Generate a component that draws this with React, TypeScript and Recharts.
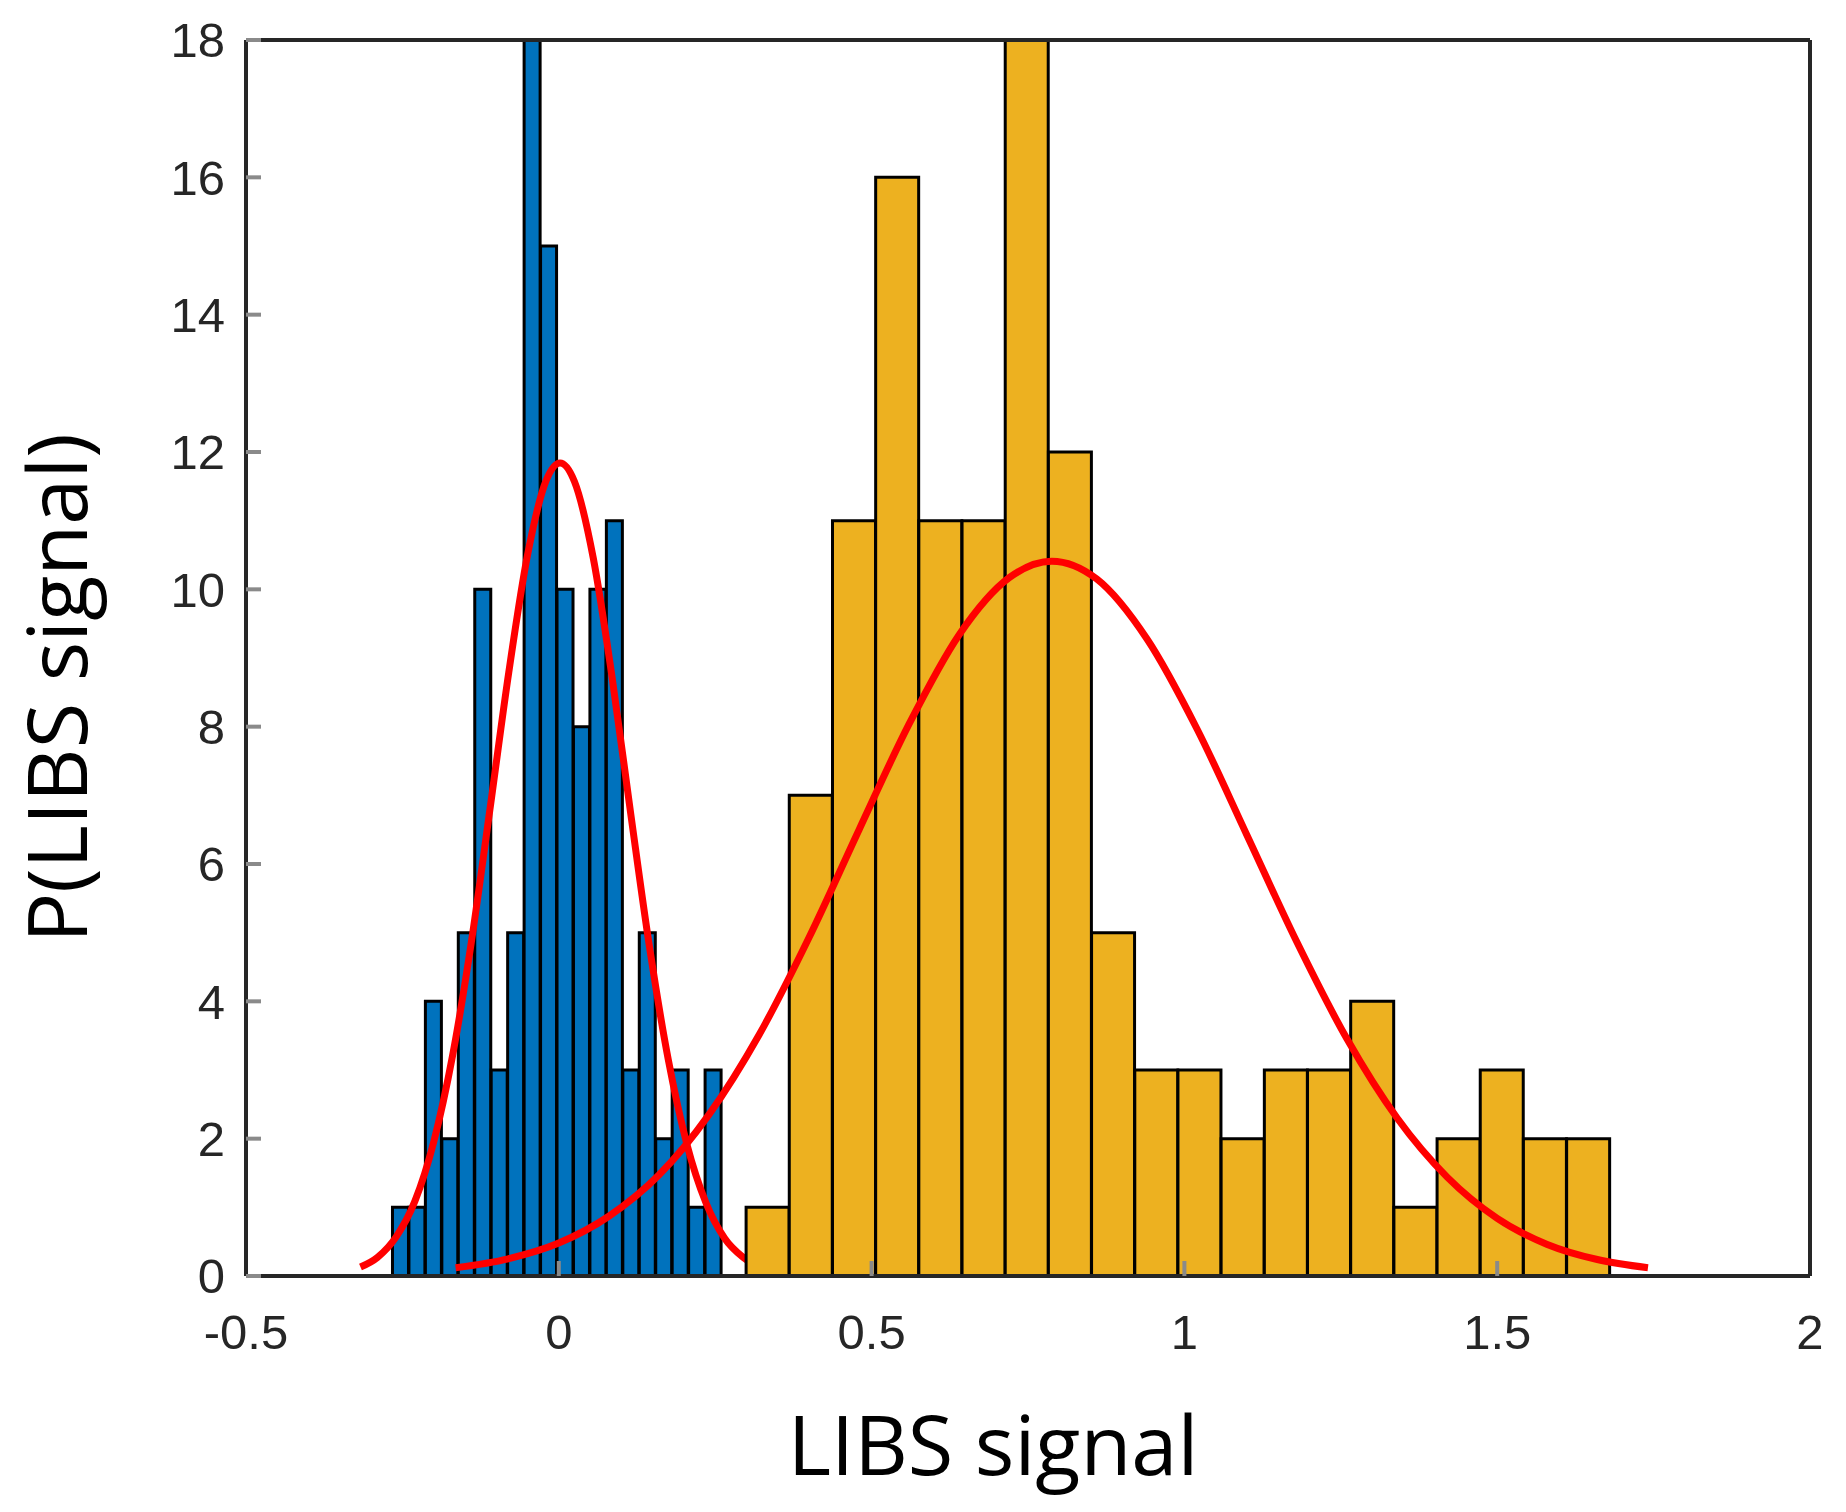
import React from 'react';
import { ComposedChart, Bar, Line, XAxis, YAxis } from 'recharts';

// Axis ticks
const xTicks = [-0.5, 0, 0.5, 1, 1.5, 2];
const yTicks = [0, 2, 4, 6, 8, 10, 12, 14, 16, 18];

// Blue histogram (bin centres, counts)
const blueBinCenters = [
  -0.2527, -0.2264, -0.2001, -0.1738, -0.1475, -0.1212, -0.0949, -0.0686, -0.0423, -0.016,
  0.0103, 0.0366, 0.0629, 0.0892, 0.1155, 0.1418, 0.1681, 0.1944, 0.2207, 0.247,
];
const blueCounts = [1, 1, 4, 2, 5, 10, 3, 5, 18, 15, 10, 8, 10, 11, 3, 5, 2, 3, 1, 3];

// Yellow histogram (bin centres, counts)
const yellowBinCenters = [
  0.3339, 0.4029, 0.472, 0.541, 0.61, 0.6791, 0.7481, 0.8171, 0.8861, 0.9552,
  1.0242, 1.0932, 1.1623, 1.2313, 1.3003, 1.3694, 1.4384, 1.5074, 1.5764, 1.6455,
];
const yellowCounts = [1, 7, 11, 16, 11, 11, 18, 12, 5, 3, 3, 2, 3, 3, 4, 1, 2, 3, 2, 2];

// Red fitted curves
const blueFitX = [
  -0.317, -0.29, -0.26, -0.23, -0.2, -0.17, -0.14, -0.11, -0.08, -0.05, -0.02, 0.002,
  0.025, 0.055, 0.085, 0.115, 0.145, 0.175, 0.205, 0.235, 0.265, 0.295, 0.321,
];
const blueFitY = [
  0.13, 0.27, 0.57, 1.09, 1.95, 3.2, 4.85, 6.8, 8.79, 10.5, 11.59, 11.84,
  11.57, 10.46, 8.73, 6.73, 4.79, 3.15, 1.91, 1.07, 0.55, 0.27, 0.13,
];
const yellowFitX = [
  -0.165, -0.081, 0.0, 0.08, 0.16, 0.24, 0.32, 0.4, 0.48, 0.56, 0.64, 0.72, 0.788,
  0.86, 0.94, 1.02, 1.1, 1.18, 1.26, 1.34, 1.42, 1.5, 1.58, 1.66, 1.741,
];
const yellowFitY = [
  0.12, 0.25, 0.48, 0.87, 1.47, 2.35, 3.51, 4.93, 6.5, 8.04, 9.34, 10.17, 10.41,
  10.15, 9.28, 7.97, 6.42, 4.86, 3.45, 2.3, 1.44, 0.84, 0.46, 0.24, 0.12,
];

// Histogram table (one row per bin index, both histograms have 20 bins)
const histData = blueBinCenters.map((bx, i) => ({
  bx,
  blue: blueCounts[i],
  yx: yellowBinCenters[i],
  yellow: yellowCounts[i],
}));
const blueFit = blueFitX.map((x, i) => ({ x, y: blueFitY[i] }));
const yellowFit = yellowFitX.map((x, i) => ({ x, y: yellowFitY[i] }));

const AXIS = '#262626';
const TICK = '#8a8a8a';
const tickFont = { fill: '#262626', fontSize: 49, fontFamily: 'Liberation Sans, Arial, sans-serif' };
const titleFont = 'Open Sans, Noto Sans, sans-serif';

const XTitle = (props: any) => {
  const vb = props.viewBox || {};
  return (
    <text
      x={vb.x + vb.width / 2 - 35}
      y={vb.y + 199}
      textAnchor="middle"
      fontFamily={titleFont}
      fontSize={83}
      fill="#000"
    >
      LIBS signal
    </text>
  );
};

const YTitle = (props: any) => {
  const vb = props.viewBox || {};
  const cx = 87;
  const cy = vb.y + vb.height / 2 + 30;
  return (
    <text
      x={cx}
      y={cy}
      transform={`rotate(-90 ${cx} ${cy})`}
      textAnchor="middle"
      fontFamily={titleFont}
      fontSize={83}
      fill="#000"
    >
      P(LIBS signal)
    </text>
  );
};

export default function App() {
  return (
    <div style={{ position: 'absolute', left: 0, top: 0, width: 1846, height: 1512, background: '#fff' }}>
      <ComposedChart
        width={1846}
        height={1512}
        data={histData}
        margin={{ top: 0, right: 0, bottom: 0, left: 0 }}
        barCategoryGap={0}
        barGap={0}
      >
        <XAxis xAxisId="blue" type="number" dataKey="bx" domain={[-0.5, 2]} allowDataOverflow hide height={0} />
        <XAxis xAxisId="yellow" type="number" dataKey="yx" domain={[-0.5, 2]} allowDataOverflow hide height={0} />
        <XAxis
          xAxisId="main"
          type="number"
          dataKey="x"
          domain={[-0.5, 2]}
          ticks={xTicks}
          interval={0}
          allowDataOverflow
          orientation="bottom"
          height={236}
          tickSize={-15}
          tickMargin={53}
          axisLine={{ stroke: AXIS, strokeWidth: 4 }}
          tickLine={{ stroke: TICK, strokeWidth: 4 }}
          tick={tickFont}
          label={<XTitle />}
        />
        <XAxis
          xAxisId="top"
          type="number"
          domain={[-0.5, 2]}
          ticks={xTicks}
          interval={0}
          allowDataOverflow
          orientation="top"
          height={40}
          tickSize={-15}
          axisLine={{ stroke: AXIS, strokeWidth: 4 }}
          tickLine={{ stroke: TICK, strokeWidth: 4 }}
          tick={false}
        />
        <YAxis
          yAxisId="left"
          type="number"
          domain={[0, 18]}
          ticks={yTicks}
          interval={0}
          allowDataOverflow
          width={246}
          tickSize={-15}
          tickMargin={36}
          axisLine={{ stroke: AXIS, strokeWidth: 4 }}
          tickLine={{ stroke: TICK, strokeWidth: 4 }}
          tick={tickFont}
          label={<YTitle />}
        />
        <YAxis
          yAxisId="right"
          orientation="right"
          type="number"
          domain={[0, 18]}
          ticks={yTicks}
          interval={0}
          allowDataOverflow
          width={36}
          tickSize={-15}
          axisLine={{ stroke: AXIS, strokeWidth: 4 }}
          tickLine={{ stroke: TICK, strokeWidth: 4 }}
          tick={false}
        />
        <Bar
          xAxisId="blue"
          yAxisId="left"
          dataKey="blue"
          fill="#0072BD"
          stroke="#000"
          strokeWidth={3}
          isAnimationActive={false}
          zIndex={300}
        />
        <Line
          xAxisId="main"
          yAxisId="left"
          data={blueFit}
          dataKey="y"
          type="monotone"
          stroke="#ff0000"
          strokeWidth={7}
          dot={false}
          activeDot={false}
          isAnimationActive={false}
          zIndex={310}
        />
        <Bar
          xAxisId="yellow"
          yAxisId="left"
          dataKey="yellow"
          fill="#EDB120"
          stroke="#000"
          strokeWidth={3}
          isAnimationActive={false}
          zIndex={320}
        />
        <Line
          xAxisId="main"
          yAxisId="left"
          data={yellowFit}
          dataKey="y"
          type="monotone"
          stroke="#ff0000"
          strokeWidth={7}
          dot={false}
          activeDot={false}
          isAnimationActive={false}
          zIndex={330}
        />
      </ComposedChart>
    </div>
  );
}
